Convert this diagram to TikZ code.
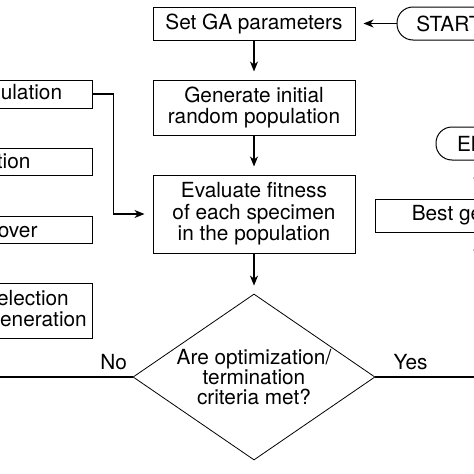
\documentclass[tikz,border=0pt]{standalone}
\usepackage{fontspec}
\setmainfont{TeX Gyre Heros}
\usetikzlibrary{arrows.meta,shapes.geometric}
\tikzset{%
    txt/.style={font=\fontsize{20.8}{21.5}\selectfont},
    box/.style={txt, rectangle, draw, line width=1pt, minimum width=202pt, align=center, inner sep=0pt},
    lbox/.style={box, minimum width=203pt},
    term/.style={txt, rectangle, rounded corners=16pt, draw, line width=1pt, minimum height=33pt, inner sep=0pt},
    dec/.style={diamond, draw, line width=0.8pt, shape aspect=1.46, minimum width=242pt, minimum height=166pt, inner sep=0pt, align=center, font=\fontsize{20.8}{20}\selectfont},
    pri/.style={line width=1.4pt},
    pra/.style={line width=1.4pt, -{Stealth[length=10pt, width=8pt, inset=3pt]}, shorten >=8pt},
    lbl/.style={txt},
}

\begin{document}
\begin{tikzpicture}[x=1pt, y=-1pt]
    \useasboundingbox (0,0) rectangle (474,474);
    \clip (0,0) rectangle (474,474);
    \coordinate (lcol) at (-9.5,0);
    \coordinate (rcol) at (477.5,0);
    % main column
    \node[box, minimum height=33pt] (set) at (254,23.5) {Set GA parameters};
    \node[box, minimum height=55pt] (gen) at (254,107.5) {Generate initial\\random population};
    \node[box, minimum height=78pt] (eval) at (254,214) {Evaluate fitness\\of each specimen\\in the population};
    \node[dec] (dec) at (254,377) {Are optimization/\\termination\\criteria met?};
    % right column
    \node[term, minimum width=104pt] (start) at (449,23.5) {START};
    \node[term, minimum width=86pt] (end) at (479,143.5) {END};
    \node[box, minimum width=219pt, minimum height=33pt] (best) at (484.5,215.5) {Best generation};
    % left column
    \node[lbox, minimum height=28pt] (pop) at (-9.5,94) {New population};
    \node[lbox, minimum height=27pt] (mut) at (-9.5,161.5) {Mutation};
    \node[lbox, minimum height=27pt] (cross) at (-9.5,229.5) {Crossover};
    \node[box, minimum width=211pt, minimum height=55pt] (sel) at (-13.5,310.5) {Roulette selection\\of the next generation};
    % connectors
    \draw[pra] (start.west) -- (set.east);
    \draw[pra] (set) -- (gen);
    \draw[pra] (gen) -- (eval);
    \draw[pra] (eval) -- (dec);
    \draw[pra] (pop.east) -- ++(21,0) |- (eval.west);
    \draw[pra] (dec.west) -- node[lbl, above=3pt, pos=0.134]{No} (lcol |- dec.west) -- (lcol |- sel.south);
    \draw[pra] (lcol |- sel.north) -- (lcol |- cross.south);
    \draw[pra] (lcol |- cross.north) -- (lcol |- mut.south);
    \draw[pra] (lcol |- mut.north) -- (lcol |- pop.south);
    \draw[pra] (dec.east) -- node[lbl, above=3pt, pos=0.345]{Yes} (rcol |- dec.east) -- (rcol |- best.south);
    \draw[pra] (rcol |- best.north) -- (rcol |- end.south);
\end{tikzpicture}
\end{document}
